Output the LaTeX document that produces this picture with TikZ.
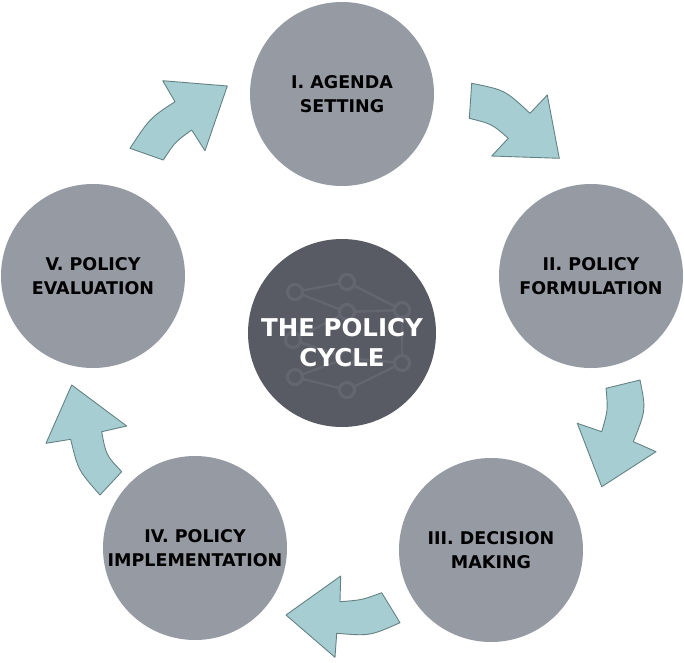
\documentclass[tikz,border=0pt]{standalone}
\usepackage{fontspec}
\setmainfont{DejaVu Sans}
\begin{document}
\begin{tikzpicture}[x=1pt,y=-1pt,
  stage/.style={circle,fill=stagegray,minimum size=184pt,inner sep=0pt,align=center,
    font=\fontsize{17.5}{23.5}\selectfont\bfseries,text=black},
  hub/.style={circle,fill=hubgray,minimum size=188pt,inner sep=0pt},
  hubtext/.style={align=center,font=\fontsize{24.5}{30}\selectfont\bfseries,text=white},
  blockarrow/.style={fill=arrowfill,draw=arrowline,line width=0.9pt,line join=round},
  netline/.style={draw=netgray,line width=2.4pt},
  netring/.style={draw=netgray,line width=3.2pt}]
\definecolor{stagegray}{RGB}{149,154,163}
\definecolor{hubgray}{RGB}{88,91,99}
\definecolor{netgray}{RGB}{99,102,110}
\definecolor{arrowfill}{RGB}{166,206,210}
\definecolor{arrowline}{RGB}{100,130,132}
\useasboundingbox (0,0) rectangle (685,662);
\fill[white] (0,0) rectangle (685,662);
% stages
\node[stage] (s1) at (342,94) {I. AGENDA\\SETTING};
\node[stage] (s2) at (591,276) {II. POLICY\\FORMULATION};
\node[stage] (s3) at (491,550) {III. DECISION\\MAKING};
\node[stage] (s4) at (195,548) {IV. POLICY\\IMPLEMENTATION};
\node[stage] (s5) at (93,276) {V. POLICY\\EVALUATION};
% hub
\node[hub] (hub) at (342,333) {};
\begin{scope}
\clip (hub.center) circle (93);
\coordinate (nA) at (295,292);
\coordinate (nB) at (347,282);
\coordinate (nC) at (402,310);
\coordinate (nD) at (347,312);
\coordinate (nE) at (293,340);
\coordinate (nF) at (402,363);
\coordinate (nG) at (295,377);
\coordinate (nH) at (347,390);
\coordinate (nI) at (347,358);
\draw[netline] (nA) -- (nB) -- (nC) -- (nD) -- (nA);
\draw[netline] (nG) -- (nH) -- (nF) -- (nI) -- (nG);
\draw[netline] (nD) -- (nE) -- (nI);
\draw[netline] (nC) -- (nF);
\foreach \n in {nA,nB,nC,nD,nE,nF,nG,nH,nI}
  \draw[netring,fill=hubgray] (\n) circle (7.5);
\end{scope}
\node[hubtext] (hubt) at (342,343) {THE POLICY\\CYCLE};
% arrows
\draw[blockarrow] (471.7,83.3) .. controls (505,90) .. (530,113.3) -- (547.3,95) -- (559.3,158.3) -- (491.7,156) -- (508.3,138.3) .. controls (492,124) .. (469.3,118.3) -- cycle;
\draw[blockarrow] (606,388.3) -- (640,380) .. controls (646,410) .. (633.3,441.7) -- (656,451.7) -- (601.7,486.7) -- (577.3,423.3) -- (601.7,431.7) .. controls (608,410) .. (606,388.3) -- cycle;
\draw[blockarrow] (381.7,592.7) -- (400,622.7) .. controls (370,636) .. (336.7,633.3) -- (335,657.3) -- (286,615) -- (340.7,576) -- (340,601.7) .. controls (362,600) .. (381.7,592.7) -- cycle;
\draw[blockarrow] (121.7,471.7) -- (100,495) .. controls (78,470) .. (70.7,439.3) -- (46,443.3) -- (71.7,385) -- (126.7,426) -- (101.7,431.7) .. controls (106,455) .. (121.7,471.7) -- cycle;
\draw[blockarrow] (130,148.3) -- (163.3,160) .. controls (175,142) .. (191.7,130) -- (205,150.7) -- (227.3,86) -- (162.7,80.7) -- (175,101.7) .. controls (150,118) .. (130,148.3) -- cycle;
\end{tikzpicture}
\end{document}
